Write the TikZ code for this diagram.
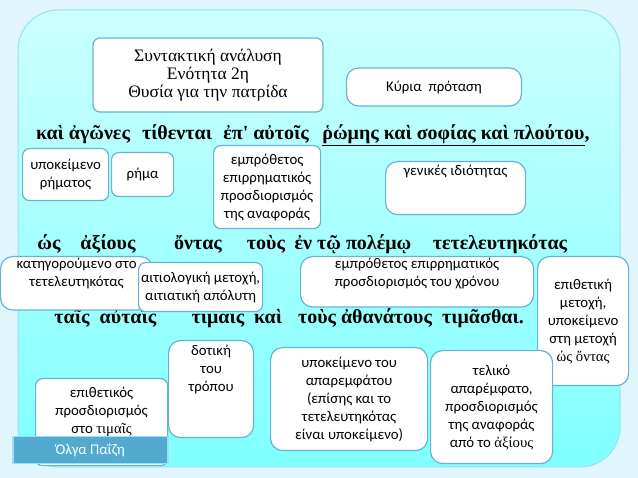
\documentclass[tikz,border=0pt]{standalone}
\usepackage{fontspec}
\setmainfont{Carlito}
\newfontfamily\gr{Liberation Serif}
\begin{document}
\begin{tikzpicture}[x=1pt,y=-1pt,
 bx/.style={draw=cyan!50!teal!70, line width=1.2pt, fill=white, rounded corners=7pt, align=center, font=\fontsize{14.8}{18}\selectfont, inner sep=1pt, anchor=north west},
 gk/.style={font=\gr\bfseries\fontsize{20}{22}\selectfont, anchor=base},
 rb/.style={bx, rounded corners=12pt}]
\useasboundingbox (0,0) rectangle (638,478);
\fill[cyan!12!white] (0,0) rectangle (638,478);
\shade[top color=cyan!20!white, bottom color=cyan!50!white, draw=cyan!40!white, line width=1pt, rounded corners=40pt] (18,10) rectangle (620,467);
\node[bx, anchor=center, minimum width=230, minimum height=74, font=\gr\fontsize{17.5}{18}\selectfont] (title) at (208,75) {Συντακτική ανάλυση\\Ενότητα 2η\\Θυσία για την πατρίδα};
\node[rb, anchor=center, minimum width=175, minimum height=38] (kp) at (434,87) {Κύρια\ \ πρόταση};
% row 1
\node[gk] (w1) at (83,140) {καὶ ἀγῶνες};
\node[gk] (w2) at (177,140) {τίθενται};
\node[gk] (w3) at (266,140) {ἐπ' αὐτοῖς};
\node[gk] (w4) at (456,140) {\underline{ῥώμης καὶ σοφίας καὶ πλούτου},};
\node[bx, minimum width=86, minimum height=52] (b1) at (22,148) {υποκείμενο\\ρήματος};
\node[bx, minimum width=62, minimum height=44] (b2) at (111,152) {ρήμα};
\node[bx, minimum width=107, minimum height=83] (b3) at (213,145) {εμπρόθετος\\επιρρηματικός\\προσδιορισμός\\της αναφοράς};
\node[rb, minimum width=140, minimum height=53] (b4) at (385,161) {γενικές ιδιότητας\\[18pt]};
% row 2
\node[gk] (v1) at (49,250) {ώς};
\node[gk] (v2) at (108,250) {ἀξίους};
\node[gk] (v3) at (198,250) {ὄντας};
\node[gk] (v4) at (266,250) {τοὺς};
\node[gk] (v5) at (353,250) {ἐν τῷ πολέμῳ};
\node[gk] (v6) at (500,250) {τετελευτηκότας};
\node[gk] (u1) at (72,324) {ταῖς};
\node[gk] (u2) at (128,324) {αὐταῖς};
\node[gk] (u3) at (218,324) {τιμαῖς};
\node[gk] (u4) at (268,324) {καὶ};
\node[gk] (u5) at (365,324) {τοὺς ἀθανάτους};
\node[gk] (u6) at (483,324) {τιμᾶσθαι.};
\node[rb, minimum width=152, minimum height=44] (c1) at (0,256) {κατηγορούμενο στο\\τετελευτηκότας\\[5pt]};
\node[bx, minimum width=124, minimum height=49] (c2) at (138,262) {αιτιολογική μετοχή,\\αιτιατική απόλυτη};
\node[rb, minimum width=233, minimum height=49] (c3) at (300,256) {εμπρόθετος επιρρηματικός\\προσδιορισμός του χρόνου\\[2pt]};
\node[rb, minimum width=91, minimum height=129] (c4) at (537,256) {επιθετική\\μετοχή,\\υποκείμενο\\στη μετοχή\\{\gr ώς ὄντας}};
% row 3 boxes
\node[bx, minimum width=132, minimum height=87] (d1) at (35,378) {επιθετικός\\προσδιορισμός\\στο {\gr τιμαῖς}\\[5pt]};
\node[rb, minimum width=85, minimum height=97] (d2) at (168,340) {δοτική\\του\\τρόπου\\[24pt]};
\node[rb, minimum width=157, minimum height=103] (d3) at (270,347) {υποκείμενο του\\απαρεμφάτου\\(επίσης και το\\τετελευτηκότας\\είναι υποκείμενο)};
\node[rb, minimum width=122, minimum height=113] (d4) at (430,350) {τελικό\\απαρέμφατο,\\προσδιορισμός\\της αναφοράς\\από το {\gr ἀξίους}};
\node[draw=cyan!40!white, line width=1.5pt, fill=cyan!55!teal!80, text=white, minimum width=155, minimum height=27, anchor=north west, font=\fontsize{14.8}{16}\selectfont] (author) at (12,436) {Όλγα Παΐζη};
\end{tikzpicture}
\end{document}
